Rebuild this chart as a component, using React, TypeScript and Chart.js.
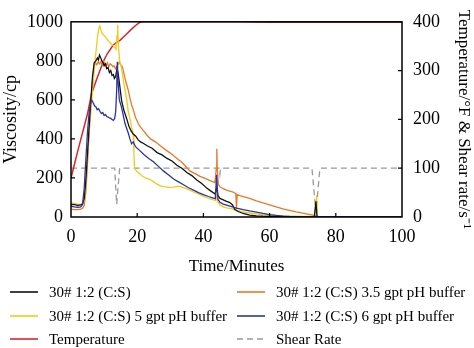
import React, { useEffect, useRef } from "react";
import { Chart, registerables } from "chart.js";

Chart.register(...registerables);

// ---------- DATA ----------
const xTicks = [0, 20, 40, 60, 80, 100];

const blackT = [0, 1, 2, 3, 3.5, 4, 4.5, 5, 5.5, 6, 6.5, 7, 7.5, 8, 8.3, 8.6, 9, 9.3, 9.7, 10, 10.4, 10.8, 11.2, 11.6, 12, 12.4, 12.8, 13.1, 13.5, 13.9, 14.2, 14.6, 15.3, 16, 16.8, 17.5, 18.2, 18.8, 19.5, 20.3, 21, 21.8, 23, 24.5, 26, 27.5, 29, 30.5, 32, 33.5, 35, 36.5, 38, 39.5, 41, 42.5, 43.5, 44, 44.4, 45, 46, 47, 48, 48.8, 49.5, 50.5, 52, 54, 56, 58, 60, 65, 70, 73.5, 74, 74.3, 75, 80, 90, 100];
const blackV = [65, 63, 60, 62, 68, 95, 190, 330, 470, 600, 720, 790, 800, 815, 805, 830, 815, 800, 790, 775, 785, 760, 765, 740, 750, 725, 730, 710, 720, 760, 740, 690, 595, 545, 505, 465, 440, 425, 415, 395, 385, 378, 365, 352, 330, 318, 300, 287, 265, 250, 228, 212, 190, 172, 148, 130, 118, 150, 110, 95, 88, 80, 74, 62, 38, 28, 18, 10, 6, 4, 3, 2, 1, 1, 80, 1, 0, 0, 0, 0];

const orangeT = [0, 1, 2, 3, 3.5, 4, 4.5, 5, 5.5, 6, 6.5, 7, 7.4, 7.8, 8.2, 8.6, 9, 9.4, 9.8, 10.2, 10.6, 11, 11.4, 11.8, 12.2, 12.6, 13, 13.4, 13.8, 14.2, 14.6, 15, 15.5, 15.8, 16.3, 16.8, 17.3, 17.8, 18.3, 18.8, 19.5, 20.3, 21, 22, 22.9, 24, 25.5, 27, 28.9, 30.5, 32, 33.5, 35, 36, 37.5, 39, 40.5, 42, 43.5, 43.9, 44.05, 44.2, 44.5, 45, 46, 47, 48, 49, 49.8, 50, 50.2, 51, 52, 54, 56, 58, 60, 62, 64, 66, 68, 70, 71.5, 73, 74, 75, 100];
const orangeV = [40, 38, 38, 40, 45, 60, 130, 280, 440, 580, 700, 775, 790, 780, 795, 785, 795, 778, 800, 785, 775, 790, 770, 785, 780, 770, 775, 760, 770, 780, 795, 780, 770, 750, 710, 680, 650, 610, 575, 550, 510, 480, 460, 440, 420, 400, 385, 365, 340, 322, 300, 280, 252, 235, 222, 208, 198, 186, 176, 250, 350, 250, 168, 155, 145, 138, 132, 128, 120, 40, 115, 110, 105, 95, 83, 72, 62, 52, 42, 34, 26, 20, 15, 10, 5, 0, 0];

const yellowT = [0, 1, 2, 3, 3.5, 4, 4.5, 5, 5.5, 6, 6.5, 7, 7.5, 8, 8.4, 8.7, 9, 9.3, 9.7, 10.2, 10.7, 11.2, 11.7, 12.2, 12.7, 13.2, 13.6, 13.9, 14.1, 14.3, 14.7, 15.3, 16, 16.8, 17.3, 17.8, 18.3, 18.8, 19, 19.2, 19.8, 20.5, 21.5, 22.5, 23.9, 25, 26, 27, 28, 29.5, 31, 32.5, 33, 34, 35.5, 37, 38.5, 40, 41.5, 43, 43.7, 44, 44.3, 45, 46, 47, 48, 49, 50, 52, 55, 58, 60, 65, 70, 73.5, 74, 74.2, 74.5, 75, 80, 100];
const yellowV = [72, 70, 66, 64, 66, 80, 160, 300, 440, 540, 650, 750, 840, 920, 965, 978, 960, 945, 935, 925, 915, 905, 895, 885, 880, 870, 860, 930, 985, 880, 800, 760, 680, 605, 540, 505, 460, 420, 330, 250, 235, 225, 210, 200, 192, 180, 168, 160, 156, 152, 153, 158, 155, 150, 140, 128, 118, 106, 96, 88, 85, 120, 80, 62, 52, 47, 44, 40, 34, 26, 18, 12, 9, 5, 3, 3, 5, 113, 3, 0, 0, 0];

const blueT = [0, 1, 2, 3, 3.5, 4, 4.5, 5, 5.5, 6, 6.3, 6.7, 7.1, 7.5, 7.9, 8.3, 8.8, 9.2, 9.6, 10, 10.4, 10.8, 11.2, 11.6, 12, 12.4, 12.8, 13.2, 13.5, 13.8, 14, 14.2, 14.6, 15.3, 15.8, 16.3, 16.8, 17.3, 17.8, 18.3, 18.8, 19.5, 20.8, 22, 23.5, 24.9, 26.5, 28, 29.5, 31, 32.5, 34, 35.5, 37, 38.5, 40, 41.5, 43, 43.6, 44, 44.4, 45, 46, 48, 50, 52, 54, 56, 58, 60, 62, 64, 66, 70, 74, 74.2, 74.4, 100];
const blueV = [55, 52, 50, 52, 65, 150, 300, 440, 540, 590, 598, 585, 570, 565, 550, 555, 540, 530, 535, 520, 525, 515, 512, 508, 505, 500, 495, 505, 540, 650, 795, 700, 600, 560, 520, 480, 455, 430, 400, 375, 385, 360, 340, 320, 300, 283, 258, 235, 215, 195, 180, 165, 150, 138, 125, 115, 105, 97, 94, 216, 90, 75, 66, 56, 46, 38, 31, 25, 18, 12, 8, 5, 3, 1, 0, 10, 0, 0];

const tempT = [0, 1, 2, 3, 4, 5, 6.2, 7, 8, 9, 9.7, 11, 12.7, 13.8, 14.8, 16.5, 18.3, 19.6, 20.8, 22, 30, 40, 50, 60, 70, 80, 90, 100];
const tempV = [80, 107, 134, 160, 186, 212, 252, 268, 287, 305, 318, 335, 352, 358, 362, 373, 385, 393, 399, 400, 400, 400, 400, 399, 399, 399, 399, 399];

const shearT = [0, 13.2, 13.8, 14.7, 44.8, 45, 45.2, 72.8, 74, 75.2, 100];
const shearV = [100, 100, 26, 100, 100, 88, 100, 100, 8, 100, 100];

const seriesLabels = [
  "30# 1:2 (C:S)",
  "30# 1:2 (C:S) 3.5 gpt pH buffer",
  "30# 1:2 (C:S) 5 gpt pH buffer",
  "30# 1:2 (C:S) 6 gpt pH buffer",
  "Temperature",
  "Shear Rate",
];
const seriesColors = ["#111111", "#e8782a", "#f2cb16", "#2d33a6", "#d8262c", "#9a9a9a"];

const FONT = "'Liberation Serif', 'Times New Roman', serif";

function pts(t: number[], v: number[]) {
  return t.map((x, i) => ({ x, y: v[i] }));
}

const framePlugin = {
  id: "frame",
  afterDraw(chart: any) {
    const { ctx, chartArea: a, scales } = chart;
    ctx.save();
    ctx.strokeStyle = "#000";
    ctx.lineWidth = 1.5;
    ctx.strokeRect(a.left, a.top, a.right - a.left, a.bottom - a.top);
    ctx.lineWidth = 1.2;
    ctx.beginPath();
    [20, 40, 60, 80].forEach((v) => {
      const x = scales.x.getPixelForValue(v);
      ctx.moveTo(x, a.bottom);
      ctx.lineTo(x, a.bottom - 4);
    });
    [200, 400, 600, 800].forEach((v) => {
      const y = scales.y.getPixelForValue(v);
      ctx.moveTo(a.left, y);
      ctx.lineTo(a.left + 4, y);
    });
    [100, 200, 300].forEach((v) => {
      const y = scales.y2.getPixelForValue(v);
      ctx.moveTo(a.right, y);
      ctx.lineTo(a.right - 4, y);
    });
    ctx.stroke();
    ctx.restore();
  },
};

const plain = (v: any) => String(v);

export default function App() {
  const ref = useRef<HTMLCanvasElement | null>(null);

  useEffect(() => {
    if (!ref.current) return;
    const lw = 1.3;
    const chart = new Chart(ref.current, {
      type: "line",
      data: {
        datasets: [
          { label: seriesLabels[3], data: pts(blueT, blueV), borderColor: seriesColors[3], borderWidth: lw, yAxisID: "y" },
          { label: seriesLabels[0], data: pts(blackT, blackV), borderColor: seriesColors[0], borderWidth: lw, yAxisID: "y" },
          { label: seriesLabels[2], data: pts(yellowT, yellowV), borderColor: seriesColors[2], borderWidth: lw, yAxisID: "y" },
          { label: seriesLabels[1], data: pts(orangeT, orangeV), borderColor: seriesColors[1], borderWidth: lw, yAxisID: "y" },
          { label: seriesLabels[4], data: pts(tempT, tempV), borderColor: seriesColors[4], borderWidth: 1.5, yAxisID: "y2" },
          { label: seriesLabels[5], data: pts(shearT, shearV), borderColor: seriesColors[5], borderWidth: 1.3, borderDash: [6, 4], yAxisID: "y2" },
        ] as any,
      },
      options: {
        responsive: false,
        animation: false,
        parsing: false as any,
        elements: { point: { radius: 0 }, line: { tension: 0 } },
        layout: { padding: { top: 7, bottom: 71, left: 0, right: 0 } },
        plugins: { legend: { display: false }, tooltip: { enabled: false } },
        scales: {
          x: {
            type: "linear",
            min: 0,
            max: 100,
            afterBuildTicks: (s: any) => { s.ticks = xTicks.map((v) => ({ value: v })); },
            afterFit: (s: any) => { s.height = 60; },
            grid: { display: false, drawTicks: false },
            border: { display: false },
            ticks: { color: "#000", font: { family: FONT, size: 18 }, padding: 9, maxRotation: 0, callback: plain },
            title: { display: true, text: "Time/Minutes", color: "#000", font: { family: FONT, size: 17 }, padding: 0 },
          },
          y: {
            type: "linear",
            position: "left",
            min: 0,
            max: 1000,
            ticks: { stepSize: 200, color: "#000", font: { family: FONT, size: 18 }, padding: 8, callback: plain },
            afterFit: (s: any) => { s.width = 71; },
            grid: { display: false, drawTicks: false },
            border: { display: false },
            title: { display: true, text: "Viscosity/cp", color: "#000", font: { family: FONT, size: 18 }, padding: 0 },
          },
          y2: {
            type: "linear",
            position: "right",
            min: 0,
            max: 400,
            ticks: { stepSize: 100, color: "#000", font: { family: FONT, size: 18 }, padding: 11, callback: plain },
            afterFit: (s: any) => { s.width = 72; },
            grid: { display: false, drawTicks: false },
            border: { display: false },
            title: { display: true, text: "Temperature/°F & Shear rate/s⁻¹", color: "#000", font: { family: FONT, size: 17 }, padding: 0 },
          },
        },
      } as any,
      plugins: [framePlugin],
    });
    return () => chart.destroy();
  }, []);

  const legendPos = [
    { idx: 0, left: 10, top: 292 },
    { idx: 1, left: 237, top: 292 },
    { idx: 2, left: 10, top: 316 },
    { idx: 3, left: 237, top: 316 },
    { idx: 4, left: 10, top: 339 },
    { idx: 5, left: 237, top: 339 },
  ];

  return (
    <div style={{ position: "fixed", left: 0, top: 0, width: 474, height: 348, background: "#fff", overflow: "hidden" }}>
      <canvas ref={ref} width={474} height={348} style={{ position: "absolute", left: 0, top: 0, width: 474, height: 348 }} />
      {legendPos.map((p) => (
        <div
          key={p.idx}
          style={{
            position: "absolute",
            left: p.left,
            top: p.top - 10,
            height: 20,
            display: "flex",
            alignItems: "center",
            fontFamily: FONT,
            fontSize: 15,
            color: "#000",
            whiteSpace: "nowrap",
          }}
        >
          <svg width={28} height={4} style={{ marginRight: 11, display: "block" }}>
            <line
              x1={0}
              y1={2}
              x2={28}
              y2={2}
              stroke={seriesColors[p.idx]}
              strokeWidth={1.6}
              strokeDasharray={p.idx === 5 ? "6 4" : undefined}
            />
          </svg>
          <span>{seriesLabels[p.idx]}</span>
        </div>
      ))}
    </div>
  );
}
